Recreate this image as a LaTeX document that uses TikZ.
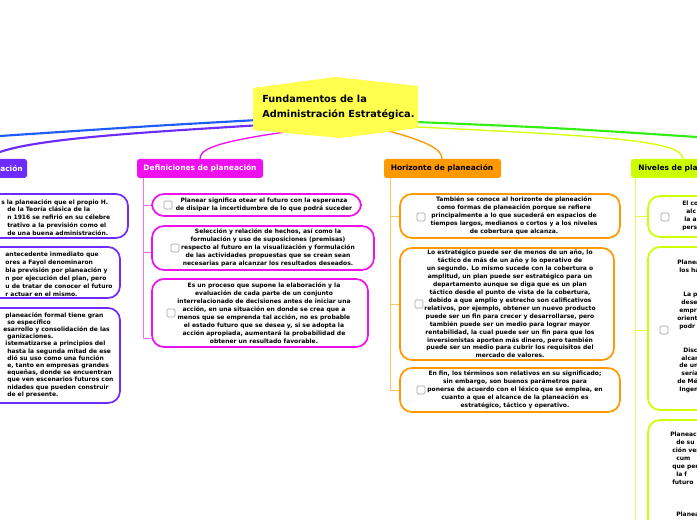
\documentclass[tikz,border=0pt]{standalone}
\usepackage{fontspec}
\setmainfont{DejaVu Sans}
\begin{document}
\begin{tikzpicture}[x=0.75pt,y=-0.75pt,
  txt/.style={font=\bfseries\fontsize{4.5}{5.95}\selectfont, inner sep=0pt, align=center},
  btxt/.style={font=\bfseries\fontsize{5.6}{7}\selectfont, inner sep=0pt},
  child/.style={draw=#1, line width=1.3pt, fill=white, rounded corners=9pt},
  branch/.style={fill=#1, rounded corners=2pt},
  chk/.style={draw=gray!70, line width=0.6pt, rounded corners=1pt, minimum size=6pt, inner sep=0pt},
  conn/.style={line width=1.6pt}]
\definecolor{cpurple}{HTML}{6E2BFF}
\definecolor{cblue}{HTML}{1F5CFF}
\definecolor{cmag}{HTML}{EE11EE}
\definecolor{corange}{HTML}{FF9900}
\definecolor{clime}{HTML}{CCFF00}
\definecolor{cgreen}{HTML}{33EE11}
\definecolor{cyel}{HTML}{FFFF4D}
\useasboundingbox (0,0) rectangle (697,520);
\clip (0,0) rectangle (697,520);
% connectors from centre
\coordinate (bl) at (0,136);
\coordinate (pl) at (0,152);
\coordinate (gr) at (697,137);
\draw[conn,cblue] (258,120) .. controls (150,126) .. (bl);
\draw[conn,cpurple] (262,125) .. controls (150,132) and (40,138) .. (pl);
\draw[conn,cgreen] (416,122) .. controls (560,128) .. (gr);
\draw[conn,cmag,line width=1pt] (300,130) .. controls (210,142) and (200,150) .. (200,159);
\draw[conn,corange,line width=1pt] (385,130) .. controls (430,142) and (442,150) .. (442,159);
\draw[conn,clime!80!yellow,line width=1pt] (418,127) .. controls (600,136) and (683,140) .. (683,159);
% central
\fill[cyel] (253,88) -- (335,77) -- (418,86) -- (418,128) -- (340,138) -- (253,130) -- cycle;
\node[font=\bfseries\fontsize{7.3}{11.5}\selectfont, align=left, anchor=north west, inner sep=0pt] (c) at (262,95) {Fundamentos de la\\Administración Estratégica.};
% branch boxes
\fill[branch=cpurple] (-10,159) rectangle (27,178);
\node[btxt,white,anchor=west] (b1) at (0,168.5) {ación};
\fill[branch=cmag] (137,159) rectangle (263,178);
\node[btxt,white] (b2) at (200,168.5) {Definiciones de planeación};
\fill[branch=corange] (384,159) rectangle (501,178);
\node[btxt] (b3) at (442,168.5) {Horizonte de planeación};
\fill[branch=clime] (631,159) rectangle (720,178);
\node[btxt,anchor=west] (b4) at (638,168.5) {Niveles de planeación};
% tree lines
\draw[cmag!60,line width=0.6pt] (143,178) -- (143,338) (143,205) -- (152,205) (143,252) -- (152,252) (143,338) -- (152,338);
\draw[corange!60,line width=0.6pt] (390,178) -- (390,390) (390,216) -- (400,216) (390,304) -- (400,304) (390,390) -- (400,390);
\draw[clime!70,line width=0.6pt] (635,178) -- (635,520) (635,216) -- (648,216) (635,330) -- (648,330);
% left column
\draw[child=cpurple] (-20,194) rectangle (128,238);
\node[txt,align=left,anchor=north west] (l1) at (1,199) {s la planeación que el propio H.\\\quad de la Teoría clásica de la\\\quad n 1916 se refirió en su célebre\\\quad trativo a la previsión como el\\\quad de una buena administración.};
\draw[child=cpurple] (-20,247) rectangle (120,298);
\node[txt,align=left,anchor=north west] (l2) at (1,252) {\ \ antecedente inmediato que\\\ \ ores a Fayol denominaron\\\ \ bla previsión por planeación y\\\ \ n por ejecución del plan, pero\\\ \ u de tratar de conocer el futuro\\\ \ r actuar en el mismo.};
\draw[child=cpurple] (-20,308) rectangle (120,403);
\node[txt,align=left,anchor=north west,font=\bfseries\fontsize{4.5}{5.4}\selectfont] (l3) at (1,312) {\ \ planeación formal tiene gran\\\quad so específico\\\ esarrollo y consolidación de las\\\quad ganizaciones.\\\ \ istematizarse a principios del\\\quad hasta la segunda mitad de ese\\\quad dió su uso como una función\\\quad e, tanto en empresas grandes\\\quad equeñas, donde se encuentran\\\quad que ven escenarios futuros con\\\quad nidades que pueden construir\\\quad de el presente.};
% definiciones
\draw[child=cmag] (152,194) rectangle (361,216);
\node[chk] (k1) at (168,205) {};
\node[txt] (d1) at (264,205) {Planear significa otear el futuro con la esperanza\\de disipar la incertidumbre de lo que podrá suceder};
\draw[child=cmag] (152,226) rectangle (374,270);
\node[chk] (k2) at (175,248) {};
\node[txt] (d2) at (268,248) {Selección y relación de hechos, así como la\\formulación y uso de suposiciones (premisas)\\respecto al futuro en la visualización y formulación\\de las actividades propuestas que se crean sean\\necesarias para alcanzar los resultados deseados.};
\draw[child=cmag] (152,279) rectangle (368,347);
\node[chk] (k3) at (171,313) {};
\node[txt] (d3) at (264,313) {Es un proceso que supone la elaboración y la\\evaluación de cada parte de un conjunto\\interrelacionado de decisiones antes de iniciar una\\acción, en una situación en donde se crea que a\\menos que se emprenda tal acción, no es probable\\el estado futuro que se desea y, si se adopta la\\acción apropiada, aumentará la probabilidad de\\obtener un resultado favorable.};
% horizonte
\draw[child=corange] (400,194) rectangle (620,238);
\node[chk] (k4) at (421,217) {};
\node[txt] (h1) at (514,216) {También se conoce al horizonte de planeación\\como formas de planeación porque se refiere\\principalmente a lo que sucederá en espacios de\\tiempos largos, medianos o cortos y a los niveles\\de cobertura que alcanza.};
\draw[child=corange] (400,248) rectangle (614,360);
\node[chk] (k5) at (419,304) {};
\node[txt] (h2) at (510,304) {Lo estratégico puede ser de menos de un año, lo\\táctico de más de un año y lo operativo de\\un segundo. Lo mismo sucede con la cobertura o\\amplitud, un plan puede ser estratégico para un\\departamento aunque se diga que es un plan\\táctico desde el punto de vista de la cobertura,\\debido a que amplio y estrecho son calificativos\\relativos, por ejemplo, obtener un nuevo producto\\puede ser un fin para crecer y desarrollarse, pero\\también puede ser un medio para lograr mayor\\rentabilidad, la cual puede ser un fin para que los\\inversionistas aporten más dinero, pero también\\puede ser un medio para cubrir los requisitos del\\mercado de valores.};
\draw[child=corange] (400,368) rectangle (620,412);
\node[chk] (k6) at (421,390) {};
\node[txt] (h3) at (515,390) {En fin, los términos son relativos en su significado;\\sin embargo, son buenos parámetros para\\ponerse de acuerdo con el léxico que se emplea, en\\cuanto a que el alcance de la planeación es\\estratégico, táctico y operativo.};
% niveles
\draw[child=clime] (648,196) rectangle (740,237);
\node[chk] (k7) at (665,217) {};
\node[txt,align=left,anchor=north west] (n1) at (682,201) {El co\\\ \ alc\\\ la a\\perso};
\draw[child=clime] (648,247) rectangle (740,410);
\node[chk] (k8) at (664,330) {};
\node[txt,align=left,anchor=north west] (n2) at (677,260) {Planea\\\ los ha\\ \\ \\\quad La p\\\ \ dese\\\ empr\\orient\\\ podr\\ \\ \\\quad Disc\\\ \ alcan\\\ de un\\\ \ sería\\de Méxi\\\ Ingenio};
\draw[child=clime] (648,420) rectangle (740,560);
\node[txt,align=left,anchor=north west] (n3) at (670,432) {Planeac\\\quad de su\\\ ción ver\\\quad cum\\\ que per\\\quad la f\\\ futuro\\ \\ \\ \\ \quad Planea};
\end{tikzpicture}
\end{document}
